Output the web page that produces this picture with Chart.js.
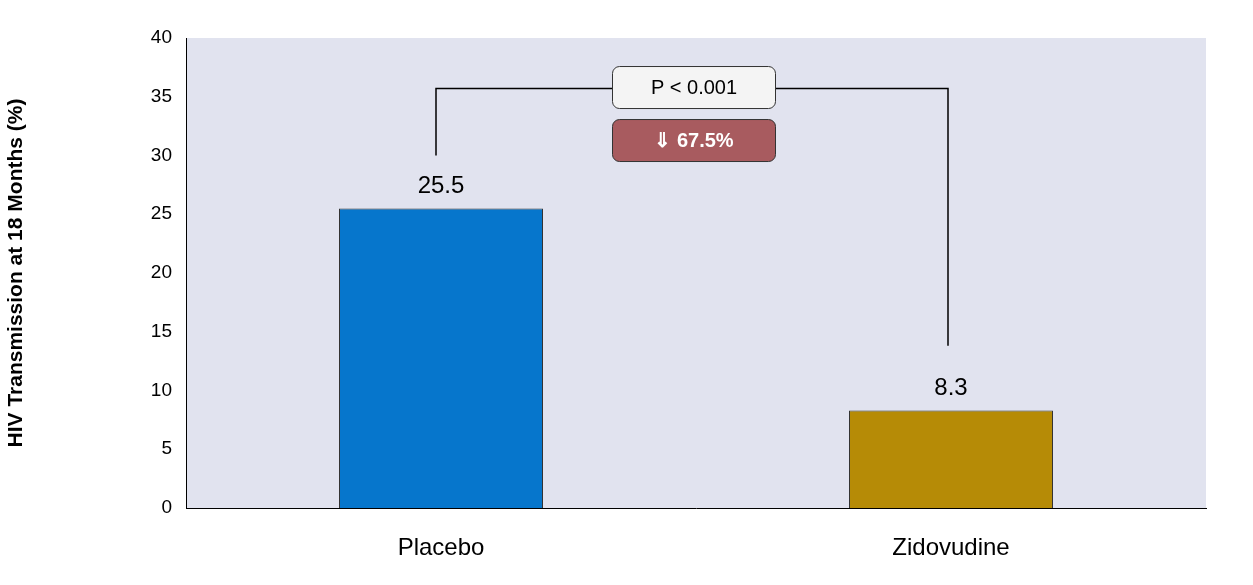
<!DOCTYPE html>
<html><head><meta charset="utf-8">
<script src="https://cdn.jsdelivr.net/npm/chart.js@4"></script>
<style>html,body{margin:0;padding:0;background:#fff}#wrap{width:1253px;height:585px}</style>
</head><body><div id="wrap"><canvas id="c"></canvas></div>
<script>
var categories = ['Placebo', 'Zidovudine'];
var values = [25.5, 8.3];
var barColors = ['#0676CC', '#B68B06'];
var yTicks = [0, 5, 10, 15, 20, 25, 30, 35, 40];
var bracketY = [30, 35.7, 13.8]; // left end, top, right end
var pLabel = 'P < 0.001';
var reductionLabel = '\u21D3 67.5%';

var overlay = {
	id: 'overlay',
	beforeDraw: function(chart){
		var a = chart.chartArea, ctx = chart.ctx;
		ctx.save();
		ctx.fillStyle = '#E1E3EF';
		ctx.fillRect(a.left, a.top, a.right - a.left, a.bottom - a.top);
		ctx.restore();
	},
	afterDatasetsDraw: function(chart){
		var ctx = chart.ctx, x = chart.scales.x, y = chart.scales.y;
		var meta = chart.getDatasetMeta(0);
		ctx.save();
		ctx.font = '24px Liberation Sans, Arial';
		ctx.fillStyle = '#000';
		ctx.textAlign = 'center';
		ctx.textBaseline = 'bottom';
		meta.data.forEach(function(bar, i){
			ctx.fillText(values[i], bar.x, bar.y - 10);
		});
		var x1 = x.getPixelForValue(0) - 5, x2 = x.getPixelForValue(1) - 3;
		var yt = y.getPixelForValue(bracketY[1]);
		ctx.strokeStyle = '#000';
		ctx.lineWidth = 1.5;
		ctx.beginPath();
		ctx.moveTo(x1, y.getPixelForValue(bracketY[0]));
		ctx.lineTo(x1, yt);
		ctx.lineTo(x2, yt);
		ctx.lineTo(x2, y.getPixelForValue(bracketY[2]));
		ctx.stroke();
		var cx = (x1 + x2) / 2 + 2, w = 163, h = 42;
		function box(top, fill, color, text, bold){
			ctx.beginPath();
			ctx.roundRect(cx - w / 2, top, w, h, 7);
			ctx.fillStyle = fill; ctx.fill();
			ctx.lineWidth = 1; ctx.strokeStyle = '#333'; ctx.stroke();
			ctx.fillStyle = color;
			ctx.font = (bold ? 'bold ' : '') + '20px Liberation Sans, Arial';
			ctx.textBaseline = 'middle';
			ctx.fillText(text, cx, top + h / 2 + 1);
		}
		box(yt - 22, '#F4F4F4', '#000', pLabel, false);
		box(yt + 31, '#A85B5F', '#fff', reductionLabel, true);
		ctx.restore();
	}
};

new Chart('c', {
	type: 'bar',
	data: {
		labels: categories,
		datasets: [{ data: values, backgroundColor: barColors, borderColor: '#333', borderWidth: 1, barPercentage: 0.8, categoryPercentage: 0.5 }]
	},
	options: {
		responsive: true, maintainAspectRatio: false, animation: false,
		layout: { padding: { top: 38, right: 47, bottom: 0, left: 0 } },
		plugins: { legend: { display: false }, tooltip: { enabled: false } },
		scales: {
			x: {
				grid: { display: false, drawTicks: true },
				border: { color: '#000' },
				ticks: { color: '#000', font: { size: 24, family: 'Liberation Sans, Arial' }, padding: 18 },
				afterFit: function(s){ s.height = 77; }
			},
			y: {
				min: 0, max: 40,
				afterBuildTicks: function(s){ s.ticks = yTicks.map(function(v){ return { value: v }; }); },
				grid: { display: false, drawTicks: true, tickLength: 8, tickColor: '#000' },
				border: { color: '#000' },
				ticks: { color: '#000', font: { size: 19, family: 'Liberation Sans, Arial' }, padding: 6 },
				title: { display: true, text: 'HIV Transmission at 18 Months (%)', color: '#000', font: { size: 21, weight: 'bold', family: 'Liberation Sans, Arial' }, padding: { bottom: 40 } },
				afterFit: function(s){ s.width = 186; }
			}
		}
	},
	plugins: [overlay]
});
</script></body></html>
